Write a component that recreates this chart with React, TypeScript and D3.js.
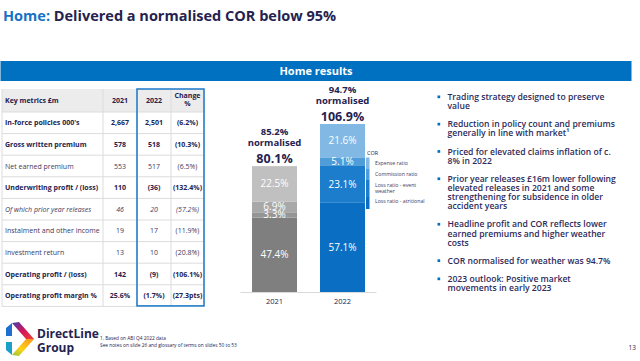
import React from "react";
import * as d3 from "d3";

const years = ["2021", "2022"];
const lossAttritional = [47.4, 57.1];
const lossEvent = [3.3, 23.1];
const commissionRatio = [6.9, 5.1];
const expenseRatio = [22.5, 21.6];
const totalCOR = [80.1, 106.9];
const normalisedCOR = [85.2, 94.7];
const seriesNames = ["Loss ratio - attritional", "Loss ratio - event weather", "Commission ratio", "Expense ratio"];

const metricLabels = [
  "In-force policies 000's",
  "Gross written premium",
  "Net earned premium",
  "Underwriting profit / (loss)",
  "Of which prior year releases",
  "Instalment and other income",
  "Investment return",
  "Operating profit / (loss)",
  "Operating profit margin %",
];
const values2021 = ["2,667", "578", "553", "110", "46", "19", "13", "142", "25.6%"];
const values2022 = ["2,501", "518", "517", "(36)", "20", "17", "10", "(9)", "(1.7%)"];
const changes = ["(6.2%)", "(10.3%)", "(6.5%)", "(132.4%)", "(57.2%)", "(11.9%)", "(20.8%)", "(106.1%)", "(27.3pts)"];
const boldRows = [0, 1, 3, 7, 8];
const italicRows = [4];

const bullets = [
  ["Trading strategy designed to preserve", "value"],
  ["Reduction in policy count and premiums", "generally in line with market¹"],
  ["Priced for elevated claims inflation of c.", "8% in 2022"],
  ["Prior year releases £16m lower following", "elevated releases in 2021 and some", "strengthening for subsidence in older", "accident years"],
  ["Headline profit and COR reflects lower", "earned premiums and higher weather", "costs"],
  ["COR normalised for weather was 94.7%"],
  ["2023 outlook: Positive market", "movements in early 2023"],
];

const NAVY = "#24224f";
const BLUE = "#0070c0";
const FONT = "'Open Sans', sans-serif";

const grayColors = ["#7f7f7f", "#959595", "#a8a8a8", "#c0c0c0"];
const blueColors = ["#0a6fc2", "#1b7dcc", "#4f9cd9", "#82b8e4"];

export default function App() {
  const x = d3.scaleBand<string>().domain(years).range([240.5, 376.5]).paddingInner(0.338).paddingOuter(0.169);
  const y = d3.scaleLinear().domain([0, 106.9]).range([292, 124]);
  const series = [lossAttritional, lossEvent, commissionRatio, expenseRatio];
  const stackData = years.map((yr, i) => {
    const o: any = { year: yr };
    seriesNames.forEach((s, k) => (o[s] = series[k][i]));
    return o;
  });
  const stacked = d3.stack<any>().keys(seriesNames)(stackData);

  const cols = [2, 103, 137, 171, 204];
  const headTop = 89;
  const headBottom = 112;
  const rowH = 21.6;

  const legendBounds = [157.5, 169, 180, 197, 209];
  const legendLabels = [["Expense ratio"], ["Commission ratio"], ["Loss ratio - event", "weather"], ["Loss ratio - atritional"]];
  const legendColors = ["#82b8e4", "#4f9cd9", "#1b7dcc", "#0a6fc2"];

  let bulletY = 99.5;
  const bulletEls: any[] = [];
  bullets.forEach((lines, bi) => {
    const y0 = bulletY;
    bulletEls.push(<rect key={"bs" + bi} x={437.5} y={y0 - 4} width={2.7} height={2.7} fill={BLUE} />);
    lines.forEach((ln, li) => {
      bulletEls.push(
        <text key={"bt" + bi + "-" + li} x={447.5} y={y0 + li * 9.1 + 0.5} fontSize={8.6} fontWeight={600} fill="#2d2b5b" fontFamily={FONT}>
          {ln}
        </text>
      );
    });
    bulletY = y0 + lines.length * 9.1 + 9.1;
  });

  return (
    <svg width={640} height={361} style={{ position: "absolute", left: 0, top: 0, background: "#fff" }}>
      <defs>
        <linearGradient id="gTop" x1="0" y1="0" x2="1" y2="1">
          <stop offset="0" stopColor="#3b3fb5" />
          <stop offset="0.5" stopColor="#d4145a" />
          <stop offset="1" stopColor="#ef4136" />
        </linearGradient>
        <linearGradient id="gBot" x1="1" y1="0" x2="0" y2="1">
          <stop offset="0" stopColor="#f7931e" />
          <stop offset="0.6" stopColor="#fcd116" />
          <stop offset="1" stopColor="#8cc63f" />
        </linearGradient>
      </defs>
      {/* Title */}
      <text x={3} y={21} fontSize={14.5} fontWeight={700} fontFamily={FONT} fill={NAVY}>
        <tspan fill="#1572c4">Home:</tspan> Delivered a normalised COR below 95%
      </text>
      {/* Banner */}
      <rect x={0.5} y={61} width={631} height={20} fill={BLUE} />
      <text x={316} y={75} textAnchor="middle" fontSize={11} fontWeight={700} fill="#fff" fontFamily={FONT}>
        Home results
      </text>

      {/* Table */}
      <rect x={cols[0]} y={headTop} width={cols[4] - cols[0]} height={headBottom - headTop} fill="#ececec" />
      {metricLabels.map((_, i) => (
        <line key={"hl" + i} x1={cols[0]} x2={cols[4]} y1={headBottom + rowH * (i + 1)} y2={headBottom + rowH * (i + 1)} stroke="#dcdcdc" strokeWidth={1} />
      ))}
      <line x1={cols[0]} x2={cols[4]} y1={headBottom} y2={headBottom} stroke="#dcdcdc" />
      {cols.map((c, i) => (
        <line key={"vl" + i} x1={c} x2={c} y1={headTop} y2={headBottom + rowH * 9} stroke="#dcdcdc" />
      ))}
      <text x={5} y={103} fontSize={7} fontWeight={700} fill={NAVY} fontFamily={FONT}>Key metrics £m</text>
      <text x={(cols[1] + cols[2]) / 2} y={103} textAnchor="middle" fontSize={7} fontWeight={700} fill={NAVY} fontFamily={FONT}>2021</text>
      <text x={(cols[2] + cols[3]) / 2} y={103} textAnchor="middle" fontSize={7} fontWeight={700} fill={NAVY} fontFamily={FONT}>2022</text>
      <text x={(cols[3] + cols[4]) / 2} y={98} textAnchor="middle" fontSize={7} fontWeight={700} fill={NAVY} fontFamily={FONT}>Change</text>
      <text x={(cols[3] + cols[4]) / 2} y={106} textAnchor="middle" fontSize={7} fontWeight={700} fill={NAVY} fontFamily={FONT}>%</text>
      {metricLabels.map((lab, i) => {
        const cy = headBottom + rowH * i + rowH / 2 + 2.5;
        const bold = boldRows.includes(i);
        const ital = italicRows.includes(i);
        const common = {
          fontSize: 7,
          fontWeight: bold ? 700 : 400,
          fontStyle: ital ? "italic" : "normal",
          fill: bold ? NAVY : "#3c3a62",
          fontFamily: FONT,
        } as any;
        return (
          <g key={"r" + i}>
            <text x={5} y={cy} {...common}>{lab}</text>
            <text x={(cols[1] + cols[2]) / 2} y={cy} textAnchor="middle" {...common}>{values2021[i]}</text>
            <text x={(cols[2] + cols[3]) / 2} y={cy} textAnchor="middle" {...common}>{values2022[i]}</text>
            <text x={(cols[3] + cols[4]) / 2} y={cy} textAnchor="middle" {...common}>{changes[i]}</text>
          </g>
        );
      })}
      <rect x={cols[2]} y={headTop} width={cols[4] - cols[2]} height={headBottom + rowH * 9 - headTop - 0.5} fill="none" stroke="#1a78c8" strokeWidth={1.5} />

      {/* Bars */}
      {stacked.map((layer, k) =>
        layer.map((d, i) => {
          const yr = years[i];
          const top = y(d[1]);
          const bot = y(d[0]);
          return (
            <rect key={"b" + k + "-" + i} x={x(yr)} y={top} width={x.bandwidth()} height={bot - top} fill={(i === 0 ? grayColors : blueColors)[k]} />
          );
        })
      )}
      {stacked.map((layer, k) =>
        layer.map((d, i) => (
          <text key={"bl" + k + "-" + i} x={(x(years[i]) as number) + x.bandwidth() / 2} y={(y(d[0]) + y(d[1])) / 2 + 3.5} textAnchor="middle" fontSize={10} fill="#fff" fontFamily={FONT}>
            {(d[1] - d[0]).toFixed(1) + "%"}
          </text>
        ))
      )}
      <line x1={240.5} x2={376.5} y1={292.5} y2={292.5} stroke="#d9d9d9" />
      {years.map((yr) => (
        <text key={"yl" + yr} x={(x(yr) as number) + x.bandwidth() / 2} y={304} textAnchor="middle" fontSize={7.5} fill={NAVY} fontFamily={FONT}>{yr}</text>
      ))}
      {years.map((yr, i) => {
        const cx = (x(yr) as number) + x.bandwidth() / 2;
        const top = y(totalCOR[i]);
        return (
          <g key={"tl" + yr}>
            <text x={cx} y={top - 3} textAnchor="middle" fontSize={12.5} fontWeight={700} fill={NAVY} fontFamily={FONT}>{totalCOR[i].toFixed(1)}%</text>
            <text x={cx} y={top - 31} textAnchor="middle" fontSize={9.5} fontWeight={700} fill={NAVY} fontFamily={FONT}>{normalisedCOR[i].toFixed(1)}%</text>
            <text x={cx} y={top - 20.5} textAnchor="middle" fontSize={9.5} fontWeight={700} fill={NAVY} fontFamily={FONT}>normalised</text>
          </g>
        );
      })}

      {/* Legend */}
      <text x={367} y={155} fontSize={5.5} fill={NAVY} fontFamily={FONT}>COR</text>
      {legendColors.map((c, k) => (
        <rect key={"lc" + k} x={366} y={legendBounds[k]} width={3.5} height={legendBounds[k + 1] - legendBounds[k]} fill={c} />
      ))}
      {legendLabels.map((lines, k) =>
        lines.map((ln, li) => (
          <text key={"ll" + k + li} x={375} y={[165, 176, 186.5, 203][k] + li * 6} fontSize={5.2} fill="#3c3a62" fontFamily={FONT}>{ln}</text>
        ))
      )}

      {/* Bullets */}
      {bulletEls}

      {/* Footer logo */}
      <polygon points="6,328 12,323 12,336 6,336" fill="#1f6fd1" />
      <polygon points="6,342 12,342 12,355 6,350" fill="#1aa0c8" />
      <polygon points="12,323 19,322 34,339 26,339" fill="url(#gTop)" />
      <polygon points="26,339 34,339 19,356 12,355" fill="url(#gBot)" />
      <text x={37} y={338} fontSize={12} fontWeight={700} fill={NAVY} fontFamily={FONT}>DirectLine</text>
      <text x={37} y={352} fontSize={12} fontWeight={700} fill={NAVY} fontFamily={FONT}>Group</text>
      <text x={100} y={340} fontSize={4.8} fill={NAVY} fontFamily={FONT}>1.      Based on ABI Q4 2022 data</text>
      <text x={100} y={347} fontSize={4.8} fill={NAVY} fontFamily={FONT}>See notes on slide 26 and glossary of terms on slides 50 to 53</text>
      <text x={636} y={350} textAnchor="end" fontSize={6.5} fill={NAVY} fontFamily={FONT}>13</text>
    </svg>
  );
}
